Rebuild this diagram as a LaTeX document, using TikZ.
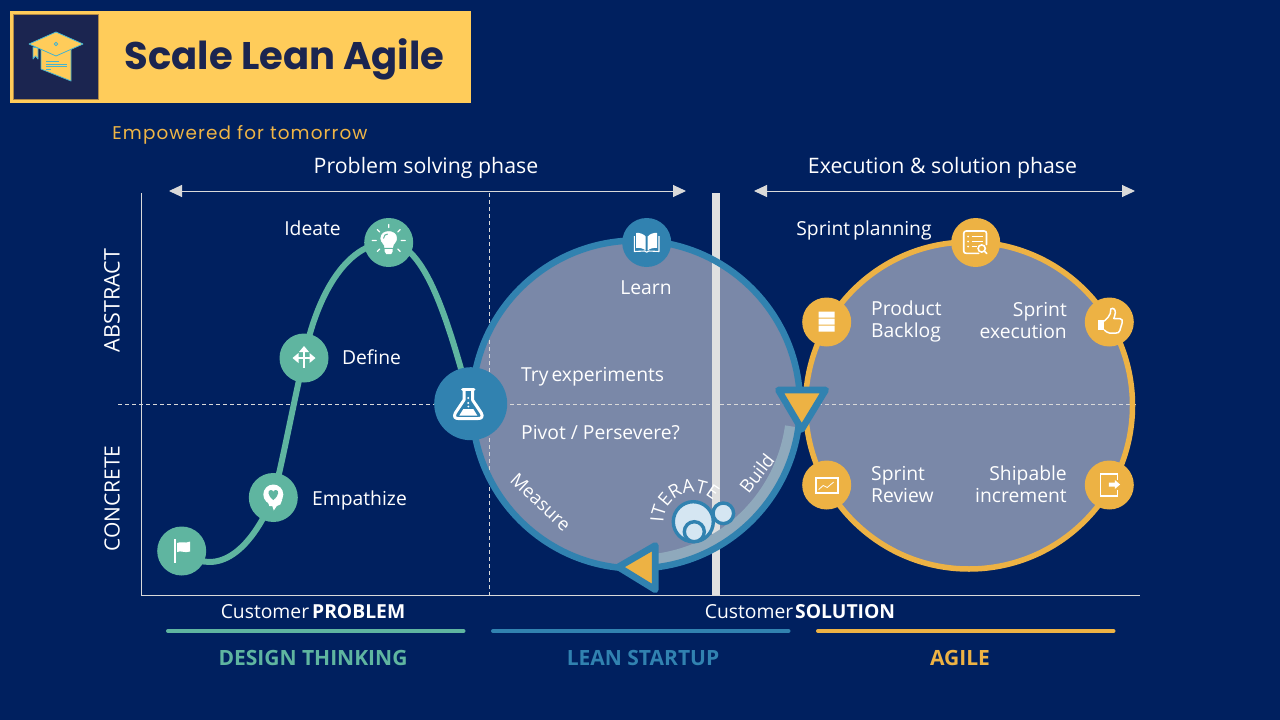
\documentclass[tikz,border=0pt]{standalone}
\usepackage{fontspec}
\setmainfont{Open Sans}
\newfontfamily\pop{Poppins}
\newfontfamily\popsp[LetterSpace=6]{Poppins}
\usetikzlibrary{arrows.meta,decorations.text}
\definecolor{bgc}{HTML}{00205F}
\definecolor{fillc}{HTML}{7A88A8}
\definecolor{teal}{HTML}{5FB5A0}
\definecolor{blu}{HTML}{3182B0}
\definecolor{org}{HTML}{EDB244}
\definecolor{yel}{HTML}{FFCC5A}
\definecolor{navy}{HTML}{1B2550}
\definecolor{lite}{HTML}{8FA9BC}
\definecolor{pale}{HTML}{D5E6F2}
\definecolor{axis}{HTML}{D9D9D9}
\definecolor{barc}{HTML}{E0E0E0}
\definecolor{cyanl}{HTML}{45B3CF}
\pgfdeclarelayer{back}
\pgfdeclarelayer{mid}
\pgfsetlayers{back,mid,main}
\tikzset{
  x=1pt,y=-1pt,
  dot/.style={circle,minimum size=49pt,inner sep=0pt,outer sep=0pt,fill=#1},
  ring/.style={circle,minimum size=#1,inner sep=0pt,outer sep=0pt},
  lab/.style={font=\fontsize{19.3}{22}\selectfont,text=white,inner sep=0pt},
  phase/.style={font=\fontsize{21.3}{24}\selectfont,text=white,inner sep=0pt},
  brand/.style={font=\fontsize{21}{24}\selectfont\bfseries,inner sep=0pt},
  bar/.style={line width=4pt,line cap=round},
  dashline/.style={draw=axis,line width=0.8pt,dash pattern=on 4pt off 3pt},
  span/.style={draw=axis,line width=1pt,{Triangle[length=13pt,width=12pt]}-{Triangle[length=13pt,width=12pt]}},
  ic/.style={draw=white,line width=1.6pt,line join=round,line cap=round},
  tri/.style={draw=blu,fill=org,line width=6.7pt,line join=round},
  bub/.style={draw=blu,fill=pale,line width=3.4pt},
}
\begin{document}
\begin{tikzpicture}
\useasboundingbox (0,0) rectangle (1280,720);
\begin{pgfonlayer}{back}
\fill[bgc] (0,0) rectangle (1280,720);
% axes
\draw[axis,line width=1pt] (141.5,193) -- (141.5,595) -- (1140,595);
% circle fills
\fill[fillc] (636,404.5) circle[radius=164];
\fill[fillc] (969,405.5) circle[radius=163.5];
\draw[dashline] (118,404.5) -- (1136,404.5);
\draw[dashline] (489.5,193) -- (489.5,595);
\fill[barc] (712,193) rectangle (720,595);
\draw[lite,line width=11pt] plot[domain=8:84,samples=50] ({636+156*cos(\x)},{404.5+156*sin(\x)});
\end{pgfonlayer}

% logo
\fill[yel] (10,11) rectangle (471,103);
\filldraw[fill=navy,draw=org!70!navy,line width=1pt] (13.5,14.5) rectangle (98.5,99.5);
\begin{scope}[line join=round]
\filldraw[fill=yel,draw=cyanl,line width=0.8pt] (33,47) -- (33,59) -- (35.5,56) -- (38,59) -- (38,48) -- cycle;
\filldraw[fill=yel,draw=cyanl,line width=0.8pt] (41,48) -- (71,48) -- (71,81) -- (41,69) -- cycle;
\filldraw[fill=yel,draw=cyanl,line width=0.8pt] (29,44) -- (56,32) -- (83,44) -- (56,56) -- cycle;
\draw[cyanl,line width=0.8pt] (56,44) circle[radius=1.8];
\draw[cyanl,line width=0.8pt] (46,61) -- (59,61) (46,64) -- (67,64) (46,66.5) -- (67,66.5) (46,69) -- (51,69);
\end{scope}
\node[name=title,inner sep=0pt,text=navy,font=\fontsize{38.5}{42}\selectfont\pop\bfseries] at (284.5,59) {Scale Lean Agile};
\node[name=tag,inner sep=0pt,text=org!90!yel,font=\fontsize{18.4}{20}\selectfont\popsp] at (240,134.5) {Empowered for tomorrow};

% phase headers
\node[phase,name=ph1] at (426,168) {Problem solving phase};
\node[phase,name=ph2] at (942.5,168) {Execution \& solution phase};
\coordinate (a1) at (169,191); \coordinate (a2) at (686,191);
\coordinate (a3) at (754,191); \coordinate (a4) at (1135,191);
\draw[span] (a1) -- (a2);
\draw[span] (a3) -- (a4);

% axis labels
\node[lab,rotate=90,name=abs,font=\fontsize{21.5}{22}\selectfont] at (112,300.5) {ABSTRACT};
\node[lab,rotate=90,name=con,font=\fontsize{21}{22}\selectfont] at (112,498.5) {CONCRETE};

% rings
\node[ring=328pt,draw=blu,line width=6.5pt,name=bluering] at (636,404.5) {};
\node[ring=327pt,draw=org,line width=5.5pt,name=orgring] at (969,405.5) {};

% triangles
\node[bub,circle,minimum size=40pt,inner sep=0pt,name=b1] at (693.3,521.7) {};
\node[bub,circle,minimum size=20pt,inner sep=0pt,name=b2] at (694.3,531.7) {};
\node[bub,circle,minimum size=20.6pt,inner sep=0pt,name=b3] at (723.3,513.3) {};
\draw[tri] (618.3,567) -- (655.3,545.5) -- (655.3,589.7) -- cycle;
\draw[tri] (778.4,390) -- (825.6,390) -- (801.7,429.3) -- cycle;

% nodes
\node[dot=teal,name=nflag] at (181.7,551) {};
\node[dot=teal,name=nemp] at (273.3,497.5) {};
\node[dot=teal,name=ndef] at (304,358) {};
\node[dot=teal,name=nide] at (388.7,242.5) {};
\node[circle,minimum size=73pt,inner sep=0pt,fill=blu,name=nflask] at (470.7,403.7) {};
\node[dot=blu,name=nlearn] at (646.7,242.5) {};
\node[dot=org,name=nplan] at (975.7,242.5) {};
\node[dot=org,name=nback] at (826.7,322) {};
\node[dot=org,name=nexec] at (1109.3,322) {};
\node[dot=org,name=nrev] at (826.7,485) {};
\node[dot=org,name=ninc] at (1109.3,485) {};

\begin{pgfonlayer}{mid}
\draw[teal,line width=6pt] (nflag.center) .. controls (210,574) and (245,563) .. (nemp.center)
  .. controls (284,455) and (292,410) .. (ndef.center)
  .. controls (316,298) and (345,243) .. (nide.center)
  .. controls (425,243) and (448,320) .. (nflask.center);
\end{pgfonlayer}

% icons
\begin{scope}[shift={(181.7,551)}]
\draw[white,line width=1.6pt] (-6.5,-12) -- (-6.5,12);
\fill[white] (-4.5,-8) .. controls (-1,-10) and (3,-7) .. (8.5,-9.5) -- (8.5,0.5) .. controls (3,2.5) and (-1,-1) .. (-4.5,1) -- cycle;
\end{scope}
\begin{scope}[shift={(273.3,497.5)}]
\fill[white] (0,-3) circle[radius=10];
\fill[white] (-6,3) -- (-4,8.5) -- (-1,8.5) -- (0.5,13) -- (3.5,8.5) -- (7,7) -- (9,2) -- cycle;
\fill[teal] (0,2.5) .. controls (-6,-2) and (-6,-7.5) .. (-2.5,-7.5) .. controls (-1,-7.5) and (0,-6.5) .. (0,-5.5) .. controls (0,-6.5) and (1,-7.5) .. (2.5,-7.5) .. controls (6,-7.5) and (6,-2) .. (0,2.5) -- cycle;
\end{scope}
\begin{scope}[shift={(304,358)}]
\draw[white,line width=2.6pt] (0,-7) -- (0,10) (-7,0) -- (7,0);
\fill[white] (0,-12) -- (5,-6) -- (-5,-6) -- cycle;
\fill[white] (-11.5,0) -- (-5.5,-5) -- (-5.5,5) -- cycle;
\fill[white] (11.5,0) -- (5.5,-5) -- (5.5,5) -- cycle;
\end{scope}
\begin{scope}[shift={(388.7,242.5)}]
\filldraw[fill=white,draw=white,line width=0.5pt] (-4,5) .. controls (-4,1) and (-8,0) .. (-8,-4) .. controls (-8,-9) and (-4,-11) .. (0,-11) .. controls (4,-11) and (8,-9) .. (8,-4) .. controls (8,0) and (4,1) .. (4,5) -- cycle;
\draw[teal,line width=1pt] (-5.2,-4) .. controls (-5.2,-7) and (-3,-8.5) .. (-1,-8.5);
\fill[white] (-4,6.5) -- (4,6.5) -- (4,9) -- (2.5,11.5) -- (-2.5,11.5) -- (-4,9) -- cycle;
\draw[white,line width=1.2pt,line cap=round]
  (0,-18) -- (0,-15) (-16.5,-2) -- (-12.5,-2) (12.5,-2) -- (16.5,-2)
  (-11.5,-13) -- (-9,-10.5) (11.5,-13) -- (9,-10.5) (-11.5,9) -- (-9,6.5) (11.5,9) -- (9,6.5);
\end{scope}
\begin{scope}[shift={(468.3,404)}]
\draw[white,line width=3.4pt,line cap=round] (-5.5,-14.5) -- (5.5,-14.5);
\draw[white,line width=3pt,line join=round] (-4.3,-14) -- (-4.3,-4) -- (-13,9) .. controls (-15,13) and (-13,14.5) .. (-10,14.5) -- (10,14.5) .. controls (13,14.5) and (15,13) .. (13,9) -- (4.3,-4) -- (4.3,-14);
\fill[white] (-9,11.5) -- (-5,5) -- (5,5) -- (9,11.5) -- cycle;
\fill[white] (0,-6) circle[radius=1.1] (0,-1) circle[radius=1.1] (0,2.5) circle[radius=1];
\end{scope}
\begin{scope}[shift={(646.7,242.5)}]
\fill[white] (-1,-6) .. controls (-3,-8.5) and (-7,-10) .. (-10.5,-9.5) -- (-10.5,5.5) .. controls (-7,5) and (-3,6) .. (-1,8) -- cycle;
\fill[white] (1,-6) .. controls (3,-8.5) and (7,-10) .. (10.5,-9.5) -- (10.5,5.5) .. controls (7,5) and (3,6) .. (1,8) -- cycle;
\draw[white,line width=1.1pt,line join=round] (-12.3,-6.5) -- (-12.3,9) -- (-2,8.5) -- (0,9.7) -- (2,8.5) -- (12.3,9) -- (12.3,-6.5);
\end{scope}
\begin{scope}[shift={(975.7,242.5)}]
\draw[ic] (3,10.8) -- (-9.5,10.8) .. controls (-11,10.8) and (-12,10) .. (-12,8.5) -- (-12,-9) .. controls (-12,-10.5) and (-11,-11.5) .. (-9.5,-11.5) -- (8.5,-11.5) .. controls (10,-11.5) and (10.8,-10.5) .. (10.8,-9) -- (10.8,2);
\draw[white,line width=1.4pt] (-4,-6) -- (7,-6) (-4,-1) -- (7,-1) (-4,4) -- (1,4);
\fill[white] (-7.5,-6) circle[radius=1] (-7.5,-1) circle[radius=1] (-7.5,4) circle[radius=1];
\filldraw[fill=org,draw=white,line width=1.6pt] (6,6) circle[radius=3.6];
\draw[ic] (8.6,8.6) -- (11,11);
\end{scope}
\begin{scope}[shift={(826.7,322)}]
\fill[white] (-8,-10.5) rectangle (8,-4.5) (-8,-3.3) rectangle (8,2.7) (-8,3.7) rectangle (8,9.5);
\end{scope}
\begin{scope}[shift={(1109.3,322)}]
\fill[white] (-11.3,-2) rectangle (-5,8);
\draw[ic,line width=1.5pt] (-5,-1) -- (-1,-5) .. controls (1,-7) and (1.5,-10) .. (1.5,-13) .. controls (4,-15) and (6.5,-12) .. (6,-9) .. controls (5.7,-7) and (5,-5) .. (4.5,-3.5) -- (10.5,-3.5) .. controls (13,-3.5) and (13.5,-1) .. (12.8,1) -- (10.5,8.5) .. controls (10,10.5) and (8.5,11) .. (7,11) -- (0,11) .. controls (-2,11) and (-3.5,9) .. (-5,8);
\end{scope}
\begin{scope}[shift={(826.7,485)}]
\draw[ic,line width=1.7pt,line join=miter] (-11,-7) rectangle (11,8);
\draw[white,line width=0.8pt] (-8,4.5) -- (-3.5,0.5) -- (0.5,2.5) -- (7,-3);
\end{scope}
\begin{scope}[shift={(1109.3,485)}]
\draw[ic,line join=miter,line cap=butt] (8,-5) -- (8,-11) -- (-9,-11) -- (-9,10.7) -- (8,10.7) -- (8,5);
\fill[white] (-0.5,-2.5) -- (5.5,-2.5) -- (5.5,-5) -- (10.8,-0.5) -- (5.5,4) -- (5.5,1.5) -- (-0.5,1.5) -- cycle;
\end{scope}

% labels
\node[lab,anchor=mid,name=tide] at (312.5,233) {Ideate};
\node[lab,anchor=mid,name=tdef] at (371.5,362) {Define};
\node[lab,anchor=mid,name=temp] at (359.5,502.5) {Empathize};
\node[lab,anchor=mid,name=tlearn] at (646,292) {Learn};
\node[lab,anchor=mid west,name=ttry] at (521,379) {Try\hspace{3pt}experiments};
\node[lab,anchor=mid west,name=tpiv] at (521,437) {Pivot / Persevere?};
\node[anchor=mid,rotate=-43,name=tmea,inner sep=0pt,text=white,font=\fontsize{18.3}{22}\selectfont] at (538,505) {Measure};
\node[anchor=mid,rotate=52,name=tbui,inner sep=0pt,text=white,font=\fontsize{18.3}{22}\selectfont] at (760,476) {Build};
\node[lab,anchor=mid,name=tplan] at (864,233) {Sprint\hspace{3pt}planning};
\node[lab,align=left,anchor=west,name=tback] at (871,321.5) {Product\\Backlog};
\node[lab,align=right,anchor=east,name=texec] at (1067,321) {Sprint\\execution};
\node[lab,align=left,anchor=west,name=trev] at (871,485) {Sprint\\Review};
\node[lab,align=right,anchor=east,name=tinc] at (1067,484) {Shipable\\increment};
\path[decorate,decoration={text along path,text align=center,text={|\fontsize{18.5}{22}\selectfont\color{white}|ITERATE}}]
  plot[domain=183:309,samples=40] ({693+29.5*cos(\x)},{522+29.5*sin(\x)});

% bottom
\node[lab,anchor=mid,name=cp] at (313,616) {Customer\hspace{3pt}\textbf{PROBLEM}};
\node[lab,anchor=mid,name=cs] at (800,616) {Customer\hspace{2pt}\textbf{SOLUTION}};
\coordinate (l1) at (168,631); \coordinate (l2) at (463.5,631);
\coordinate (l3) at (493,631); \coordinate (l4) at (788.5,631);
\coordinate (l5) at (818,631); \coordinate (l6) at (1113.5,631);
\draw[bar,teal] (l1) -- (l2);
\draw[bar,blu] (l3) -- (l4);
\draw[bar,org] (l5) -- (l6);
\node[brand,text=teal,anchor=mid,name=bd] at (313,663) {DESIGN THINKING};
\node[brand,text=blu,anchor=mid,name=bl] at (643,663) {LEAN STARTUP};
\node[brand,text=org,anchor=mid,name=ba] at (960,663) {AGILE};
\end{tikzpicture}
\end{document}
